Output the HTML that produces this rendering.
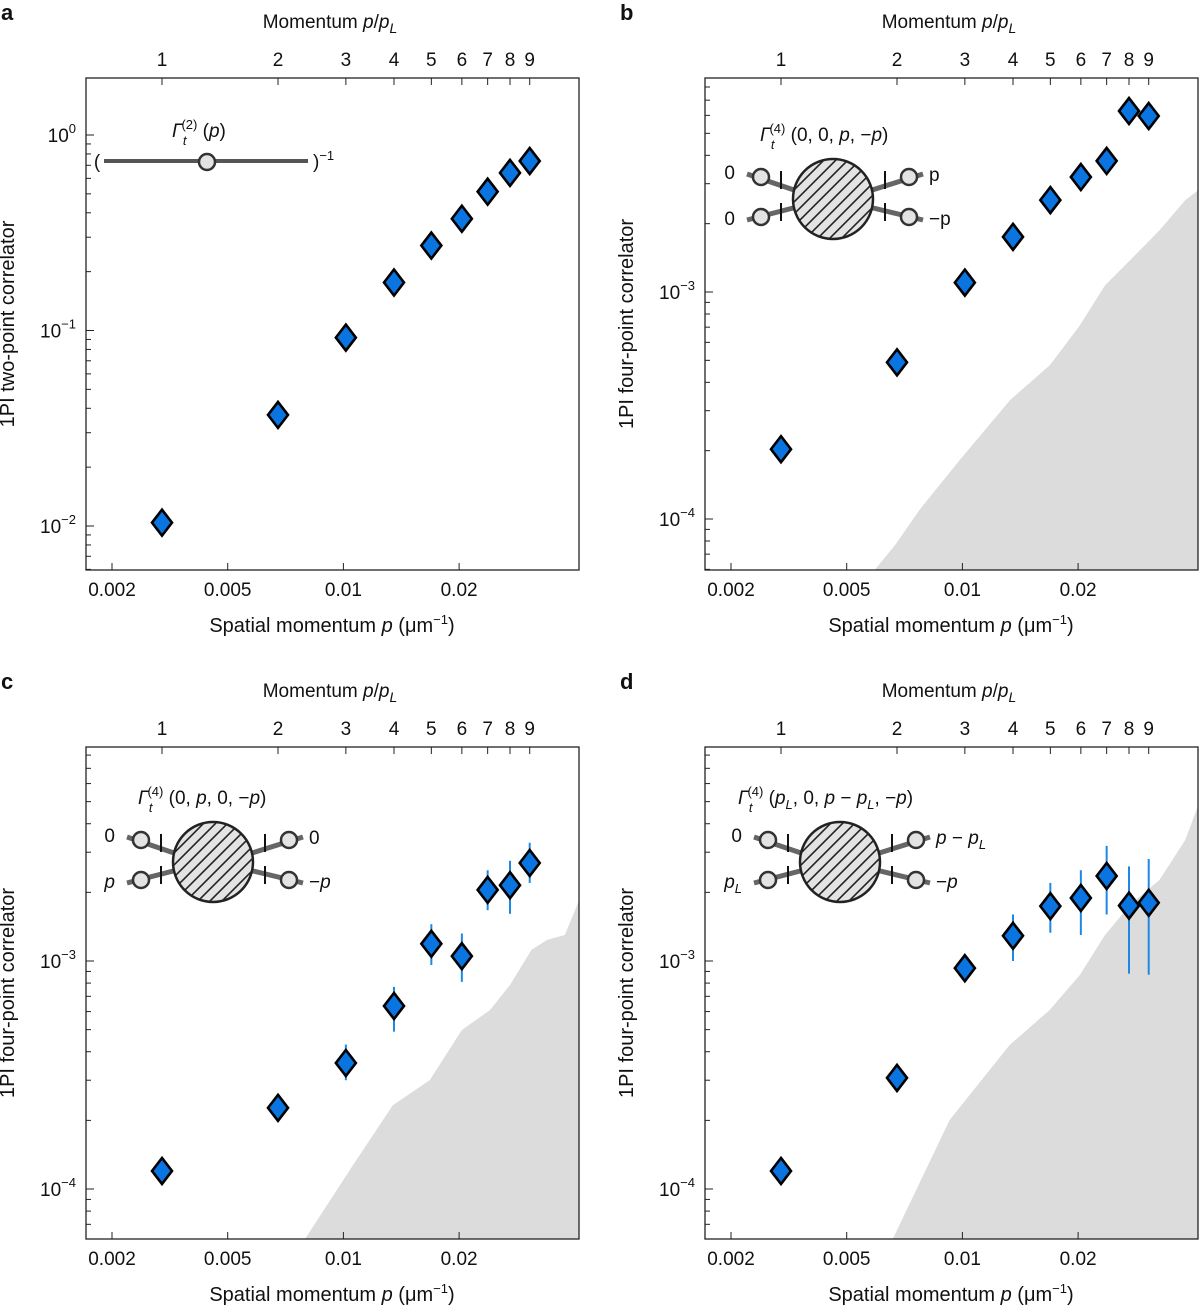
<!DOCTYPE html>
<html><head><meta charset="utf-8"><style>
body{margin:0;background:#fff;}
svg{font-family:"Liberation Sans",sans-serif;}
</style></head><body>
<svg id="fig" width="1200" height="1306" viewBox="0 0 1200 1306" xmlns="http://www.w3.org/2000/svg"></svg>
<script>
// ---- data ----
const momentumIdx = [1,2,3,4,5,6,7,8,9];
const xTickLabels = ["0.002","0.005","0.01","0.02"];
const seriesA = [0.0104,0.037,0.092,0.176,0.272,0.373,0.513,0.64,0.736];
const seriesB = [2.03e-4,4.9e-4,1.1e-3,1.75e-3,2.54e-3,3.21e-3,3.78e-3,6.27e-3,5.96e-3];
const seriesC = [1.2e-4,2.27e-4,3.57e-4,6.35e-4,1.19e-3,1.05e-3,2.05e-3,2.15e-3,2.69e-3];
const errLoC = [0,0,3.0e-4,4.9e-4,9.6e-4,8.1e-4,1.67e-3,1.61e-3,2.2e-3];
const errHiC = [0,0,4.3e-4,7.7e-4,1.45e-3,1.32e-3,2.5e-3,2.75e-3,3.3e-3];
const seriesD = [1.2e-4,3.07e-4,9.3e-4,1.29e-3,1.74e-3,1.89e-3,2.36e-3,1.75e-3,1.8e-3];
const errLoD = [0,2.7e-4,8.1e-4,1.0e-3,1.33e-3,1.3e-3,1.6e-3,8.8e-4,8.7e-4];
const errHiD = [0,3.4e-4,1.05e-3,1.6e-3,2.2e-3,2.5e-3,3.2e-3,2.6e-3,2.8e-3];
const bandBx = [1.75,1.98,2.29,2.91,3.93,4.99,5.97,6.93,8.05,9.6,11.2,12.1];
const bandBy = [5.96e-5,7.7e-5,1.1e-4,1.82e-4,3.34e-4,4.77e-4,7.15e-4,1.07e-3,1.38e-3,1.87e-3,2.54e-3,2.81e-3];
const bandCx = [2.35,3.07,3.97,4.95,6.0,7.1,8.0,9.1,10.0,11.1,12.1];
const bandCy = [6e-5,1.21e-4,2.33e-4,3.0e-4,4.98e-4,6.1e-4,7.85e-4,1.12e-3,1.24e-3,1.30e-3,1.85e-3];
const bandDx = [1.95,2.74,3.92,4.98,5.97,6.93,8.05,9.6,11.2,12.1];
const bandDy = [6e-5,2.01e-4,4.28e-4,6.1e-4,8.7e-4,1.3e-3,1.76e-3,2.27e-3,3.4e-3,4.83e-3];

const NS="http://www.w3.org/2000/svg";
const svg=document.getElementById('fig');
function el(tag,attrs,parent){const e=document.createElementNS(NS,tag);for(const k in attrs)e.setAttribute(k,attrs[k]);(parent||svg).appendChild(e);return e;}
function txt(s,x,y,size,anchor,parent,extra){const t=el('text',Object.assign({x:x,y:y,'font-size':size,'text-anchor':anchor||'middle',fill:'#111'},extra||{}),parent);t.innerHTML=s;return t;}

function panel(o){
  const g=el('g',{});
  
  
  const L=o.x0,R=o.x0+493,T=o.y0,B=o.y0+492;
  const xs=k=>L+76+116*Math.log2(k);
  const ys=v=>o.yRef-o.ppd*(Math.log10(v)-o.refExp);
  if(o.bx){
    let d='M'+xs(o.bx[0])+','+B;
    for(let i=0;i<o.bx.length;i++) d+=' L'+xs(o.bx[i])+','+Math.min(B,ys(o.by[i]));
    d+=' L'+(R+10)+','+ys(o.by[o.by.length-1])+' L'+(R+10)+','+B+' Z';
    const clip=el('clipPath',{id:'clip'+o.letter},g);el('rect',{x:L,y:T,width:493,height:492},clip);
    const p=el('path',{d:d,fill:'#dcdcdc','clip-path':'url(#clip'+o.letter+')'},g);
    
    
  }
  const box=el('rect',{x:L,y:T,width:493,height:492,fill:'none',stroke:'#222','stroke-width':1.3},g);
  
  
  const lt=txt(o.letter,o.x0-86+1,o.y0-58,22,'start',g,{'font-weight':'bold'});
  
  
  const tt=txt('Momentum <tspan font-style="italic">p</tspan>/<tspan font-style="italic">p</tspan><tspan font-style="italic" font-size="14" dy="5">L</tspan>',L+244,o.y0-50,19,'middle',g);
  
  
  momentumIdx.forEach(k=>{
    el('line',{x1:xs(k),x2:xs(k),y1:T,y2:T+7,stroke:'#222','stroke-width':1},g);
    const t=txt(String(k),xs(k),o.y0-12,19,'middle',g);
    
    
  });
  xTickLabels.forEach((s,i)=>{
    const x=L+26+115.7*i;
    el('line',{x1:x,x2:x,y1:B,y2:B-7,stroke:'#222','stroke-width':1},g);
    const t=txt(s,x,B+26,19,'middle',g);
    
    
  });
  const xt=txt('Spatial momentum <tspan font-style="italic">p</tspan> (μm<tspan font-size="13" dy="-8">−1</tspan><tspan dy="8">)</tspan>',L+246,B+62,20,'middle',g);
  
  
  for(let e=o.expMin;e<=o.expMax;e++){
    for(let m=1;m<10;m++){
      const y=ys(m*Math.pow(10,e));
      if(y<T||y>B)continue;
      el('line',{x1:L,x2:L+(m===1?8:5),y1:y,y2:y,stroke:'#222','stroke-width':1},g);
      if(m===1){
        const t=txt('10<tspan font-size="13" dy="-9">'+(e<0?'−'+(-e):e)+'</tspan>',L-10,y+7,19,'end',g);
        
        
      }
    }
  }
  const yt=txt(o.ylab,0,0,20,'middle',g,{transform:'translate('+(L-72)+','+(T+246)+') rotate(-90)'});
  
  
  o.vals.forEach((v,i)=>{
    const x=xs(momentumIdx[i]);
    if(o.lo&&o.lo[i]>0){
      const e=el('line',{x1:x,x2:x,y1:ys(o.lo[i]),y2:ys(o.hi[i]),stroke:'#1e88e5','stroke-width':2},g);
      
      
    }
  });
  o.vals.forEach((v,i)=>{
    const x=xs(momentumIdx[i]),y=ys(v);
    const p=el('path',{d:`M${x},${y-13} L${x+10},${y} L${x},${y+13} L${x-10},${y} Z`,fill:'#0a74e0',stroke:'#000','stroke-width':2.6,'stroke-linejoin':'miter'},g);
    
    
  });
  return g;
}

function diagram(cx,cy,title,l1,l2,r1,r2,g,tx){
  const d=el('g',{},g);
  
  
  txt(title,tx,cy-58,19,'start',d);
  const nodes=[[cx-72,cy-22],[cx-72,cy+18],[cx+76,cy-22],[cx+76,cy+18]];
  nodes.forEach(([nx,ny],i)=>{
    const ex=i<2?nx-14:nx+14, ey=ny+(ny<cy?-3:3);
    const ix=i<2?cx-36:cx+36, iy=cy+(ny<cy?-8:8);
    el('line',{x1:ex,y1:ey,x2:ix,y2:iy,stroke:'#666','stroke-width':5},d);
  });
  el('line',{x1:cx-52,x2:cx-52,y1:cy-28,y2:cy-10,stroke:'#111','stroke-width':2},d);
  el('line',{x1:cx-52,x2:cx-52,y1:cy+4,y2:cy+22,stroke:'#111','stroke-width':2},d);
  el('line',{x1:cx+52,x2:cx+52,y1:cy-28,y2:cy-10,stroke:'#111','stroke-width':2},d);
  el('line',{x1:cx+52,x2:cx+52,y1:cy+4,y2:cy+22,stroke:'#111','stroke-width':2},d);
  const cid='hc'+cx+'_'+cy;
  const cp=el('clipPath',{id:cid},d);el('circle',{cx:cx,cy:cy,r:40},cp);
  el('circle',{cx:cx,cy:cy,r:40,fill:'#e3e3e3'},d);
  const hg=el('g',{'clip-path':'url(#'+cid+')'},d);
  for(let k=-60;k<=60;k+=12) el('line',{x1:cx-50,y1:cy+50+k,x2:cx+50,y2:cy-50+k,stroke:'#222','stroke-width':1.6},hg);
  el('circle',{cx:cx,cy:cy,r:40,fill:'none',stroke:'#222','stroke-width':2.5},d);
  nodes.forEach(([nx,ny])=>el('circle',{cx:nx,cy:ny,r:8,fill:'#e3e3e3',stroke:'#333','stroke-width':2.5},d));
  txt(l1,cx-98,cy-20,19,'end',d);txt(l2,cx-98,cy+26,19,'end',d);
  txt(r1,cx+96,cy-18,19,'start',d);txt(r2,cx+96,cy+26,19,'start',d);
}
const G='<tspan font-style="italic">Γ</tspan><tspan font-style="italic" font-size="13" dy="8">t</tspan><tspan font-size="13" dx="-5" dy="-16">(4)</tspan><tspan dy="8"> ';
const I=s=>'<tspan font-style="italic">'+s+'</tspan>';
const pL='<tspan font-style="italic">p</tspan><tspan font-style="italic" font-size="13" dy="5">L</tspan><tspan dy="-5">';

const ga=panel({letter:'a',x0:86,y0:78,yRef:135,ppd:195.5,refExp:0,expMin:-3,expMax:1,vals:seriesA,ylab:'1PI two-point correlator'});
const ia=el('g',{},ga);


txt('<tspan font-style="italic">Γ</tspan><tspan font-style="italic" font-size="13" dy="8">t</tspan><tspan font-size="13" dx="-5" dy="-16">(2)</tspan><tspan dy="8"> (</tspan><tspan font-style="italic">p</tspan>)',172,137,19,'start',ia);
el('line',{x1:104,x2:308,y1:161,y2:161,stroke:'#555','stroke-width':4},ia);
el('circle',{cx:207,cy:162,r:8,fill:'#e3e3e3',stroke:'#333','stroke-width':2.5},ia);
txt('(',97,168,19,'middle',ia);
txt(')<tspan font-size="13" dy="-8">−1</tspan>',313,168,19,'start',ia);

const gb=panel({letter:'b',x0:705,y0:78,yRef:292,ppd:227,refExp:-3,expMin:-5,expMax:-2,vals:seriesB,bx:bandBx,by:bandBy,ylab:'1PI four-point correlator'});
diagram(833,199,G+'(0, 0, '+I('p')+', −'+I('p')+')</tspan>','0','0','p','−p',gb,760);
const gc=panel({letter:'c',x0:86,y0:747,yRef:961,ppd:228,refExp:-3,expMin:-5,expMax:-2,vals:seriesC,lo:errLoC,hi:errHiC,bx:bandCx,by:bandCy,ylab:'1PI four-point correlator'});
diagram(213,862,G+'(0, '+I('p')+', 0, −'+I('p')+')</tspan>','0',I('p'),'0','−'+I('p'),gc,138);
const gd=panel({letter:'d',x0:705,y0:747,yRef:961,ppd:228,refExp:-3,expMin:-5,expMax:-2,vals:seriesD,lo:errLoD,hi:errHiD,bx:bandDx,by:bandDy,ylab:'1PI four-point correlator'});
diagram(840,862,G+'('+pL+', 0, '+I('p')+' − '+pL+', −'+I('p')+')</tspan></tspan></tspan>','0',pL+'</tspan>',I('p')+' − '+pL+'</tspan>','−'+I('p'),gd,738);
</script>
</body></html>
